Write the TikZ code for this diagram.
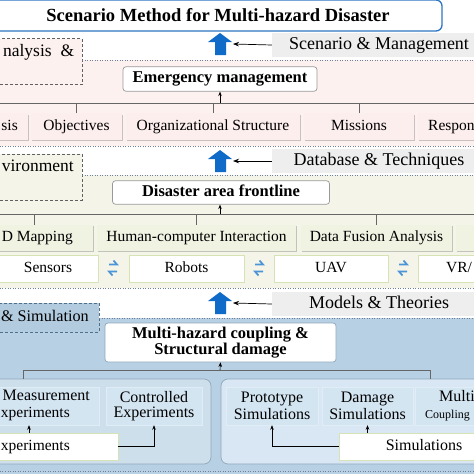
\documentclass[tikz,border=0pt]{standalone}
\usepackage{fontspec}
\setmainfont{Liberation Serif}
\usetikzlibrary{arrows.meta,shadows}
\definecolor{titleblue}{HTML}{2E75C4}
\definecolor{arrowblue}{HTML}{0F6AC8}
\definecolor{pinkband}{HTML}{FDF1F0}
\definecolor{pinkbox}{HTML}{FCEEED}
\definecolor{greenband}{HTML}{F4F5E8}
\definecolor{greenbox}{HTML}{F0F2E2}
\definecolor{greenline}{HTML}{D5E3B5}
\definecolor{blueband}{HTML}{B7D0E3}
\definecolor{bluegroupA}{HTML}{CEDFEC}
\definecolor{bluegroupB}{HTML}{D8E7F3}
\definecolor{bluebox}{HTML}{D4E5F2}
\definecolor{groupline}{HTML}{8FA8BC}
\definecolor{dotcol}{HTML}{6F819A}
\definecolor{labelgray}{HTML}{EEEEEE}
\definecolor{swapblue}{HTML}{4A94D8}
\definecolor{tabblue}{HTML}{B3CBDF}
\definecolor{tabline}{HTML}{4F6E88}
\definecolor{treegray}{HTML}{666666}
\newcommand\fsz[1]{\fontsize{#1}{#1}\selectfont}
\begin{document}
\begin{tikzpicture}[x=1pt,y=-1pt,
  dotline/.style={draw=dotcol, line width=0.9pt, dash pattern=on 0.9pt off 1.6pt},
  tabbox/.style={draw=#1, line width=0.8pt, dash pattern=on 3pt off 2pt, inner sep=0pt},
  rt/.style={font=\fsz{15.5}, text height=10.8pt, text depth=3.4pt, inner sep=0pt},
  bt/.style={font=\bfseries\fsz{16.5}, text height=11.5pt, text depth=3.6pt, inner sep=0pt},
  shad/.style={drop shadow={shadow xshift=1.3pt, shadow yshift=-1.3pt, fill=black, opacity=0.2}},
  pinkrow/.style={rt, fill=pinkbox, shad},
  greenrow/.style={rt, fill=greenbox, shad},
  whiterow/.style={rt, fill=white, draw=greenline, line width=0.6pt},
  mainbox/.style={bt, fill=white, draw=#1, rounded corners=3pt, line width=0.7pt},
  mhbox/.style={font=\bfseries\fsz{16.5}, align=center, inner sep=0pt, fill=white, draw=groupline, rounded corners=3pt, line width=0.7pt},
  labelbox/.style={font=\fsz{18}, fill=labelgray, inner sep=0pt, text height=12.5pt, text depth=4pt},
  innerbox/.style={font=\fsz{16}, fill=bluebox, draw=bluebox!70!white, align=center, inner sep=0pt, shad},
  groupbox/.style={draw=groupline, rounded corners=7pt, line width=0.7pt, inner sep=0pt},
  botbox/.style={rt, font=\fsz{16}, fill=white, draw=greenline, line width=0.7pt},
  treeline/.style={draw=treegray, line width=0.8pt},
  conn/.style={-{Stealth[length=6pt,width=4.5pt]}, line width=0.7pt},
  small/.style={-{Stealth[length=4.5pt,width=3.5pt]}, line width=0.6pt},
  swapline/.style={draw=swapblue, line width=1.7pt},
  bigarrow/.style={fill=arrowblue}
]
\useasboundingbox (0,0) rectangle (474,474);
\fill[white] (0,0) rectangle (474,474);
\clip (0,0) rectangle (474,474);

% ---------------- title
\node[draw=titleblue, line width=1.3pt, fill=white, rounded corners=6pt,
      minimum width=448, minimum height=31, inner sep=0pt,
      font=\bfseries\fsz{18.5}] (title) at (218,15.5) {Scenario Method for Multi-hazard Disaster};

% ---------------- band 1 (pink)
\fill[pinkband] (-5,60) rectangle (480,146);
\node[tabbox=gray!75!black, fill=pinkband, minimum width=92, minimum height=46] (tab1) at (36,61.5) {};
\node[rt, font=\fsz{17.5}, text height=12pt, anchor=east] (tab1t) at (74.5,52) {nalysis\hspace{9pt}\&};
\draw[dotline] (82,60) -- (480,60);
\draw[dotline] (-5,146) -- (480,146);

\fill[bigarrow] (208,42) -- (220,33) -- (232,42) -- (226,42) -- (226,55) -- (215,55) -- (215,42) -- cycle;
\coordinate (a1) at (233,44);
\node[labelbox, minimum width=214, minimum height=24] (lab1) at (379,45) {Scenario \& Management};
\draw[conn] (lab1.west) -- (a1);

\node[mainbox=gray!80, minimum width=194, minimum height=24.5] (em) at (220,79) {Emergency management};
\coordinate (j1) at (220,103);
\draw[treeline] (-5,103) -- (480,103);
\draw[small] (j1) -- (em.south);

\node[pinkrow, minimum width=38, minimum height=26.5] (sisb) at (9,126.5) {};
\node[rt, anchor=east] (sist) at (18,126.5) {sis};
\node[pinkrow, minimum width=91, minimum height=26.5] (obj) at (76.5,126.5) {Objectives};
\node[pinkrow, minimum width=174, minimum height=26.5] (org) at (213,126.5) {Organizational Structure};
\node[pinkrow, minimum width=110, minimum height=26.5] (mis) at (359,126.5) {Missions};
\node[pinkrow, minimum width=82, minimum height=26.5] (resp) at (459,126.5) {};
\node[rt, anchor=west] (respt) at (428,126.5) {Respon};
\foreach \b in {obj,org,mis} \draw[treeline] (\b.north) -- (\b.north |- j1);

% ---------------- band 2 (green)
\fill[greenband] (-5,175) rectangle (480,288);
\node[tabbox=gray!75!black, fill=greenband, minimum width=92, minimum height=46] (tab2) at (36,177) {};
\node[rt, font=\fsz{17.5}, text height=12pt, anchor=east] (tab2t) at (74,167) {vironment};
\draw[dotline] (82,175) -- (480,175);
\draw[dotline] (-5,288) -- (480,288);

\begin{scope}[shift={(0,117)}]
\fill[bigarrow] (208,42) -- (220,33) -- (232,42) -- (226,42) -- (226,55) -- (215,55) -- (215,42) -- cycle;
\end{scope}
\coordinate (a2) at (233,161);
\node[labelbox, minimum width=214, minimum height=24] (lab2) at (379,161) {Database \& Techniques};
\draw[conn] (lab2.west) -- (a2);

\node[mainbox=gray!80, minimum width=217, minimum height=23.5] (daf) at (221,192.5) {Disaster area frontline};
\coordinate (j2) at (220,214);
\draw[treeline] (-5,214) -- (480,214);
\draw[small] (j2) -- (j2 |- daf.south);

\node[greenrow, minimum width=118, minimum height=26] (dmap) at (34,238) {};
\node[rt, anchor=east] (dmapt) at (73,238) {D Mapping};
\node[greenrow, minimum width=199, minimum height=26] (hci) at (196.5,238) {Human-computer Interaction};
\node[greenrow, minimum width=151, minimum height=26] (dfa) at (376.5,238) {Data Fusion Analysis};
\node[greenrow, minimum width=44, minimum height=26] (r4) at (478,238) {};
\foreach \b in {dmap,hci,dfa} \draw[treeline] (\b.north) -- (\b.north |- j2);

\node[whiterow, minimum width=100, minimum height=27] (sens) at (48,268.5) {Sensors};
\node[whiterow, minimum width=115, minimum height=27] (rob) at (186.5,268.5) {Robots};
\node[whiterow, minimum width=114, minimum height=27] (uav) at (331,268.5) {UAV};
\node[whiterow, minimum width=82, minimum height=27] (vr) at (459,268.5) {};
\node[rt, anchor=west] (vrt) at (446,268.5) {VR/};
\foreach \cx in {113,259,403} {
  \draw[swapline] (\cx-4,264.5) -- (\cx+4,264.5) -- (\cx+0.5,260.5);
  \draw[swapline] (\cx+4,271.5) -- (\cx-4,271.5) -- (\cx-0.5,275.5);
}

% ---------------- band 3 (blue)
\fill[blueband] (-5,318) rectangle (480,480);
\node[tabbox=tabline, fill=tabblue, minimum width=109, minimum height=29] (tab3) at (44.5,317.5) {};
\node[rt, font=\fsz{16.2}, anchor=east] (tab3t) at (89,318) {\& Simulation};
\draw[dotline] (99,318) -- (480,318);
\draw[dotline] (-5,471) -- (480,471);

\begin{scope}[shift={(0,259)}]
\fill[bigarrow] (208,42) -- (220,33) -- (232,42) -- (226,42) -- (226,55) -- (215,55) -- (215,42) -- cycle;
\end{scope}
\coordinate (a3) at (233,303);
\node[labelbox, minimum width=214, minimum height=24] (lab3) at (379,304) {Models \& Theories};
\draw[conn] (lab3.west) -- (a3);

\node[mhbox, minimum width=231, minimum height=39] (mh) at (220.5,342.5) {Multi-hazard coupling \&\\[-1pt]Structural damage};

\node[groupbox, fill=bluegroupA, minimum width=221, minimum height=85] (g1) at (100.5,421.5) {};
\node[groupbox, fill=bluegroupB, minimum width=269, minimum height=85] (g2) at (355.5,421.5) {};
\coordinate (j3) at (220,370);
\coordinate (t3l) at (23,370);
\coordinate (t3r) at (430,370);
\draw[treeline] (t3l |- g1.north) -- (t3l) -- (t3r) -- (t3r |- g2.north);
\draw[small] (j3) -- (mh.south);

\node[innerbox, minimum width=140, minimum height=38] (meas) at (29,406) {};
\node[rt, font=\fsz{16}, anchor=east] (meast1) at (90,397) {Measurement};
\node[rt, font=\fsz{15.5}, anchor=east] (meast2) at (70,413.5) {xperiments};
\node[innerbox, minimum width=96, minimum height=38] (ctrl) at (154,406) {Controlled\\[-1pt]Experiments};
\node[innerbox, minimum width=92, minimum height=38] (proto) at (272,406) {Prototype\\[1pt]Simulations};
\node[innerbox, minimum width=91, minimum height=38] (dmg) at (367.5,406) {Damage\\[1pt]Simulations};
\node[innerbox, minimum width=75, minimum height=38] (mult) at (452.5,406) {};
\node[rt, font=\fsz{16}, anchor=west] (multt1) at (439,398) {Multi};
\node[rt, font=\fsz{12}, text height=8.5pt, text depth=2.6pt, anchor=west] (multt2) at (425,416) {Coupling};

\node[botbox, minimum width=128, minimum height=27] (exp) at (54,446.5) {};
\node[rt, font=\fsz{15.5}, anchor=east] (expt) at (70,447) {xperiments};
\node[botbox, minimum width=170, minimum height=27] (sim) at (424,446.5) {Simulations};

\draw[small] (exp.east) -| (ctrl.south);
\draw[small] (meas.south |- exp.north) -- (meas.south);
\draw[small] (sim.west) -| (proto.south);
\draw[small] (dmg.south |- sim.north) -- (dmg.south);
\end{tikzpicture}
\end{document}
